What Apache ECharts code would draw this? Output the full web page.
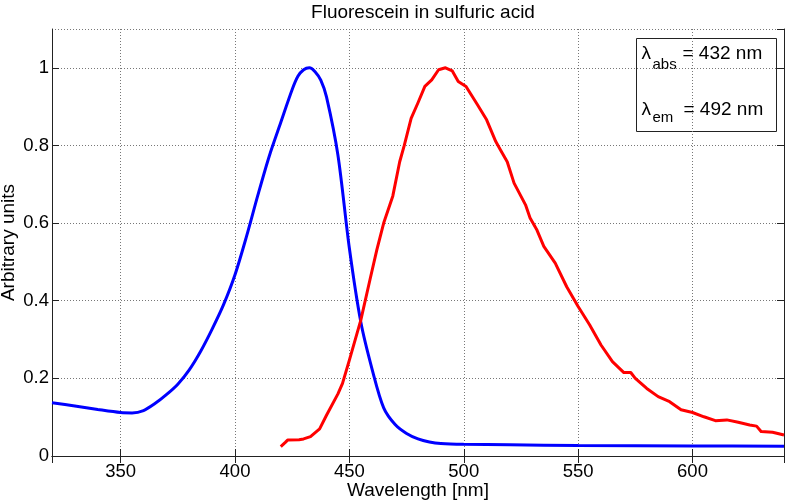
<!DOCTYPE html>
<html>
<head>
<meta charset="utf-8">
<script src="https://cdn.jsdelivr.net/npm/echarts@6/dist/echarts.min.js"></script>
<style>
html,body{margin:0;padding:0;background:#fff;}
#chart{width:785px;height:500px;}
</style>
</head>
<body>
<div id="chart"></div>
<script>
// Absorption spectrum (blue)
const absWavelength = [320,330,340,350,355,360,365,370,375,380,385,390,395,400,405,410,415,420,425,427.5,430,432.5,435,437.5,440,445,450,455,460,465,470,475,480,485,490,500,520,550,600,640];
const absValue      = [0.137,0.129,0.12,0.112,0.111,0.117,0.135,0.158,0.185,0.222,0.27,0.327,0.39,0.467,0.565,0.672,0.773,0.859,0.944,0.978,0.995,1.0,0.99,0.968,0.925,0.775,0.535,0.345,0.222,0.124,0.081,0.058,0.044,0.036,0.032,0.030,0.029,0.027,0.026,0.025];

// Emission spectrum (red)
const emWavelength = [420,422,423,428,430,433,437,440,445,447,450,455,459,462,465,469,472,474,477,480,483,486,489,492,495,497.6,501,506,510,514,516,519,522,527,529,532,535,540,545,550,555,560,565,570,573,575,580,585,590,595,600,605,610,615,620,625,628,630,635,640];
const emValue      = [0.024,0.035,0.041,0.042,0.044,0.05,0.07,0.105,0.16,0.187,0.247,0.35,0.454,0.531,0.6,0.67,0.758,0.80,0.87,0.91,0.952,0.969,0.995,1.0,0.992,0.965,0.952,0.905,0.866,0.81,0.789,0.758,0.703,0.647,0.613,0.582,0.54,0.497,0.436,0.385,0.338,0.286,0.243,0.215,0.215,0.2,0.174,0.153,0.14,0.119,0.112,0.101,0.091,0.093,0.087,0.08,0.077,0.063,0.061,0.054];

const titleText = 'Fluorescein in sulfuric acid';
const xName = 'Wavelength [nm]';
const yName = 'Arbitrary units';
const lambdaAbs = 432;
const lambdaEm = 492;

const FONT = "'Liberation Sans', Arial, Helvetica, sans-serif";

const absData = absWavelength.map((w, i) => [w, absValue[i]]);
const emData = emWavelength.map((w, i) => [w, emValue[i]]);

const chart = echarts.init(document.getElementById('chart'), null, {renderer: 'canvas'});

const gridLine = {show: true, lineStyle: {color: '#777', width: 1, type: [1, 2]}};
const axisLineStyle = {show: true, lineStyle: {color: '#222', width: 1}};

const option = {
  animation: false,
  backgroundColor: '#fff',
  textStyle: {fontFamily: FONT},
  title: {
    text: titleText,
    left: 418, top: -2,
    textAlign: 'center',
    textStyle: {fontSize: 19, fontWeight: 'normal', color: '#000', fontFamily: FONT}
  },
  grid: {left: 52, right: 1, top: 29, bottom: 44, containLabel: false, outerBoundsMode: 'none'},
  xAxis: [{
    type: 'value', min: 320, max: 640,
    position: 'bottom',
    name: xName, nameLocation: 'middle', nameGap: 25, nameMoveOverlap: false,
    nameTextStyle: {fontSize: 19, color: '#000', fontFamily: FONT},
    axisLine: axisLineStyle,
    axisTick: {show: true, inside: true, length: 7, lineStyle: {color: '#222'}},
    axisLabel: {
      fontSize: 18.5, color: '#000', margin: 6, fontFamily: FONT,
      showMinLabel: false, showMaxLabel: false,
      formatter: v => (v % 50 === 0 && v > 320 && v < 640) ? String(v) : ''
    },
    splitLine: gridLine
  }, {
    type: 'value', min: 320, max: 640,
    position: 'top',
    axisLine: axisLineStyle,
    axisTick: {show: true, inside: true, length: 7, lineStyle: {color: '#222'}},
    axisLabel: {show: false},
    splitLine: {show: false}
  }],
  yAxis: [{
    type: 'value', min: 0, max: 1.1, interval: 0.2,
    position: 'left',
    name: yName, nameLocation: 'middle', nameGap: 34, nameRotate: 90, nameMoveOverlap: false,
    nameTextStyle: {fontSize: 19, color: '#000', fontFamily: FONT},
    axisLine: axisLineStyle,
    axisTick: {show: true, inside: true, length: 7, lineStyle: {color: '#222'}},
    axisLabel: {
      fontSize: 18.5, color: '#000', margin: 3, fontFamily: FONT,
      showMaxLabel: false,
      formatter: v => (v > 1.05 ? '' : String(Math.round(v * 10) / 10))
    },
    splitLine: gridLine
  }, {
    type: 'value', min: 0, max: 1.1, interval: 0.2,
    position: 'right',
    axisLine: axisLineStyle,
    axisTick: {show: true, inside: true, length: 7, lineStyle: {color: '#222'}},
    axisLabel: {show: false},
    splitLine: {show: false}
  }],
  series: [{
    name: 'Absorption',
    type: 'line',
    xAxisIndex: 0, yAxisIndex: 0,
    data: absData,
    smooth: 0.3,
    showSymbol: false,
    lineStyle: {color: '#0000ff', width: 3},
    itemStyle: {color: '#0000ff'},
    z: 3
  }, {
    name: 'Emission',
    type: 'line',
    xAxisIndex: 0, yAxisIndex: 0,
    data: emData,
    smooth: false,
    showSymbol: false,
    lineStyle: {color: '#ff0000', width: 3, join: 'round'},
    itemStyle: {color: '#ff0000'},
    z: 3
  }],
  graphic: [{
    type: 'group',
    left: 636, top: 38,
    z: 100,
    children: [{
      type: 'rect',
      shape: {x: 0, y: 0, width: 140, height: 93},
      style: {fill: '#fff', stroke: '#222', lineWidth: 1}
    }, {
      type: 'text', x: 5, y: 15,
      style: {text: '\u03bb', font: '19px ' + FONT, fill: '#000', verticalAlign: 'middle'}
    }, {
      type: 'text', x: 16, y: 26,
      style: {text: 'abs', font: '15px ' + FONT, fill: '#000', verticalAlign: 'middle'}
    }, {
      type: 'text', x: 46, y: 15,
      style: {text: '= ' + lambdaAbs + ' nm', font: '19px ' + FONT, fill: '#000', verticalAlign: 'middle'}
    }, {
      type: 'text', x: 5, y: 71,
      style: {text: '\u03bb', font: '19px ' + FONT, fill: '#000', verticalAlign: 'middle'}
    }, {
      type: 'text', x: 16, y: 79,
      style: {text: 'em', font: '15px ' + FONT, fill: '#000', verticalAlign: 'middle'}
    }, {
      type: 'text', x: 47, y: 71,
      style: {text: '= ' + lambdaEm + ' nm', font: '19px ' + FONT, fill: '#000', verticalAlign: 'middle'}
    }]
  }]
};

chart.setOption(option);
</script>
</body>
</html>
